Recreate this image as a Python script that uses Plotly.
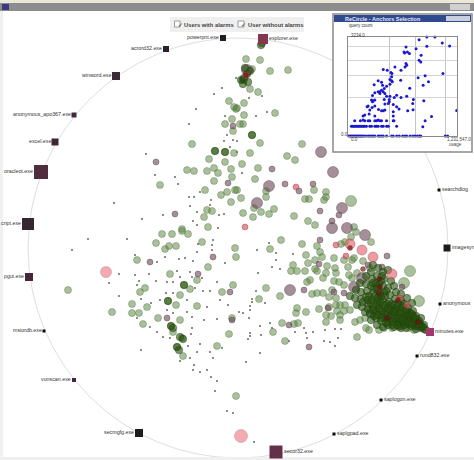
import plotly.graph_objects as go

W, H = 474, 460

green_pts = [(229,101),(234,107),(236,109),(232,119),(225,124),(233,131),(192,144),(215,151),(225,152),(209,159),(234,153),(225,162),(214,168),(218,173),(231,169),(232,177),(187,170),(194,171),(207,171),(214,181),(160,185),(205,190),(221,195),(227,192),(235,190),(231,202),(207,210),(212,211),(204,217),(208,227),(182,229),
(246,59),(260,60),(270,71),(288,70),(252,69),(244,80),(250,89),(258,92),(244,103),(275,113),(244,115),(237,108),(243,124),(240,124),(252,135),(260,143),(302,144),(250,153),(287,156),(295,160),(242,164),(258,168),(255,179),(266,191),(266,197),(241,198),(305,199),(309,199),(314,190),(326,192),(326,197),(324,200),(274,209),(269,214),(261,212),(243,213),(253,217),(294,216),(308,221),(315,225),(354,227),(254,208),(237,190),
(162,234),(172,234),(182,231),(188,234),(156,243),(169,246),(165,249),(176,246),(202,242),(235,248),(236,257),(137,260),(208,267),(170,274),(197,280),(184,285),(190,289),(145,288),(140,292),(180,295),(222,292),(233,285),(68,290),(168,301),(176,305),(197,306),(147,307),(132,304),(132,313),(139,313),(112,312),(158,318),(180,320),(232,318),(143,324),(171,326),(173,332),(182,338),(229,334),(177,347),(217,346),(183,356),(236,396),
(281,240),(270,249),(302,244),(317,246),(320,252),(322,257),(306,255),(308,263),(315,260),(334,258),(344,260),(354,258),(363,261),(293,265),(291,271),(297,271),(305,271),(315,269),(317,271),(327,266),(335,268),(336,273),(326,273),(348,267),(352,260),(371,242),(356,232),(351,237),(345,242),(341,244),(323,278),(310,280),(307,282),(334,281),(339,282),(266,288),(280,296),(312,294),(317,293),(323,293),(329,297),(332,290),(336,298),(259,299),(344,285),(349,275),(352,278),(357,273),(370,268),
(297,308),(296,313),(306,312),(319,309),(329,307),(336,305),(340,305),(345,305),(350,310),(344,311),(337,311),(331,316),(326,315),(340,315),(340,320),(326,322),(355,322),(360,320),(365,318),(282,323),(294,324),(298,323),(273,332),(285,341),(357,337),(366,328),(369,330),(379,330),(384,328),(392,328),(399,327),(409,328),(414,330)]
green_big_pts = [(351,201),(410,271),(404,283),(419,301)]
cluster_pts = [(373,265),(378,268),(371,272),(383,272),(388,270),(366,276),(372,279),(377,276),(384,279),(391,281),(360,283),(366,284),(371,286),(376,283),(383,286),(388,288),(394,286),(356,290),(361,292),(367,291),(373,293),(378,290),(384,293),(390,295),(396,292),(401,294),(350,296),(355,298),(361,299),(366,297),(372,300),(378,298),(383,300),(389,302),(395,299),(401,301),(407,298),(412,303),(357,305),(362,307),(368,304),(373,307),(379,305),(385,308),(390,306),(396,309),(402,306),(408,308),(413,311),(365,312),(370,314),(376,312),(382,315),(387,312),(393,315),(399,312),(405,315),(410,313),(416,316),(421,318),(371,320),(376,318),(381,321),(387,319),(392,322),(398,320),(403,323),(409,320),(414,323),(419,321),(424,325),(377,325),(383,327),(388,325),(394,327),(400,326),(406,328),(411,326),(416,329),(421,328),(426,330),
(395,305),(400,310),(404,304),(407,312),(410,318),(413,316),(417,320),(405,322),(398,316),(392,318),(388,322),(384,318),(380,310),(376,304),(396,322),(402,318),(415,326),(420,324),(424,329),(408,324),(411,322),(401,328),(393,310),(387,304),(381,297),(374,288),(369,296),(363,302),(385,296),(379,284),(382,276),(368,309),(374,316),
(390,310),(394,312),(397,307),(401,314),(404,318),(407,316),(411,319),(414,320),(416,323),(418,326),(421,326),(423,327),(399,318),(395,318),(391,315),(388,316),(385,314),(382,311),(379,308),(377,300),(380,302),(384,305),(388,308),(392,304),(398,303),(403,308),(406,310),(409,315),(412,314),(400,323),(404,325),(397,325),(392,325),(386,323),(381,318),(377,315),(373,310),(371,303),(375,296),(380,293),(386,291),(377,287),(373,283),(381,281),(368,300),(403,320),(408,322),(412,324),(415,318),(419,324),
(241,80),(244,78),(247,74),(250,71),(245,68),(248,82),(243,84),(252,135),(168,301),(171,326),(173,328),(180,337),(183,339),(177,347),(179,350),(184,285),(215,151),(225,152),(261,45),(262,43)]
mauve_big_pts = [(321,152),(333,172),(269,186),(257,203),(342,208),(332,228),(347,228),(247,70),(365,235),(354,287),(290,290),(362,278),(372,312)]
mauve_pts = [(156,162),(175,214),(228,183),(233,126),(285,184),(272,169),(313,184),(299,191),(320,211),(339,215),(332,221),(242,80),(150,262),(213,257),(198,274),(230,292),(167,318),(232,320),(309,347),(368,265),(382,267),(387,256),(320,240),(319,264),(344,293),(334,292),(328,308),(304,290),(402,287),(289,325)]
red_big_pts = [(350,244),(362,250),(373,257),(392,274)]
red_pts = [(296,187),(245,227),(246,75),(346,256),(336,245),(400,298),(407,305)]
darkred_pts = [(379,279),(350,248),(380,287),(363,269),(418,322),(387,318),(398,300),(379,293),(246,75)]
salmon_big_pts = [(106,272),(241,436)]
dot_pts = [(88,239),(127,239),(72,250),(119,274),(109,283),(119,296),(135,255),(157,262),(165,257),(179,259),(185,258),(193,261),(198,244),(212,245),(197,252),(212,250),(213,240),(225,263),(135,275),(149,274),(139,281),(137,285),(156,281),(167,282),(173,282),(177,271),(190,272),(180,277),(192,277),(202,278),(217,282),(210,291),(203,291),(195,288),(166,293),(160,300),(151,303),(141,299),(173,293),(187,300),(207,307),(220,300),(228,305),(167,310),(173,313),(187,312),(192,317),(204,320),(217,319),(137,318),(150,327),(157,332),(163,337),(170,338),(192,328),(191,334),(200,344),(188,346),(197,352),(210,352),(222,348),(213,358),(190,358),(180,361),(194,365),(193,370),(200,372),(207,370),(211,377),(217,381),(215,391),(141,350),(227,411),(233,413),
(236,78),(222,88),(214,94),(196,109),(189,124),(146,154),(155,175),(175,177),(178,184),(114,203),(142,219),(163,215),(189,197),(194,197),(190,206),(200,192),(211,200),(210,205),(197,212),(219,215),(224,214),(193,221),(197,225),(218,228),(233,140),(230,147),(224,141),(227,135),(225,116),
(256,116),(267,112),(249,98),(262,96),(242,173),(237,141),(237,152),
(257,250),(269,243),(276,253),(276,260),(293,254),(272,267),(280,269),(258,273),(256,291),(252,299),(252,302),(265,303),(250,306),(239,312),(243,313),(250,310),(249,318),(270,323),(260,326),(272,328),(250,333),(250,336),(248,339),(261,335),(289,341),(295,332),(306,333),(313,332),(307,338),(324,341),(330,342),(338,338),(335,346),(325,330),(335,329),(341,329),(260,353),(246,362),(254,442),(304,328)]

anchor_names = ["powerpnt.exe","acrord32.exe","winword.exe","anonymous_apo367.exe","excel.exe","oracleot.exe","cript.exe","pgui.exe","msiordb.exe","vunscan.exe","secmgfg.exe","secor32.exe","saplgpad.exe","saplogon.exe","rund832.exe","minutes.exe","anonymous","imagesyn","searchdlog","explorer.exe"]
anchor_x = [223,166,116,74,55,41,28,29,44,74,139,276,334,381,417,430,440,447,439,263]
anchor_y = [38,49,76,115,142,172,224,277,331,380,433,452,434,400,356,332,304,248,190,39]
anchor_size = [6,6,8,5,7,14,12,8,3,4,8,13,3,3,3,8,3,7,3,10]
anchor_color = ["#201e1e","#2a2226","#3c2a36","#40283a","#402532","#4f2e3e","#352630","#452738","#0a0a0a","#40283a","#1c1c1c","#652f4a","#0a0a0a","#0a0a0a","#0a0a0a","#a03a6a","#0a0a0a","#1c1c1c","#0a0a0a","#853750"]
anchor_side = ["l","l","l","l","l","l","l","l","l","l","l","r","r","r","r","r","r","r","r","r"]

inset_bottom_x = [58,62,66,70,74,78,82,86,90,94,98,102,108,115,120,125,130,135,145,150,155,160,170,185,190,200,208,218,225,230,240,248,255,262,268,272,345,352]
inset_row1_x = [65,69,73,77,81,85,89,93,97,101,105,110,120,125,135,140,145,155,160,170,175,200]
inset_row2_x = [75,92,105,115,120,135,140,150,155,170,190,192]
inset_other = [(105,315),(100,318),(118,312),(135,318),(155,302),(160,302),(190,318),(190,305),(207,297),(233,302),(248,280),(281,272),(250,268),(230,258),(213,262),(200,255),(193,262),(180,258),(178,268),(170,258),(163,268),(178,275),(115,288),(112,290),(128,275),(125,270),(130,272),(135,288),(135,270),(128,256),(135,248),(133,224),(145,212),(155,216),(158,225),(150,245),(160,245),(155,240),(163,235),(170,228),(150,250),(165,250),(145,245),(180,222),(180,208),(185,212),(187,215),(185,200),(186,190),(172,180),(160,178),(183,187),(195,170),(213,180),(228,160),(230,165),(225,170),(222,125),(228,110),(224,128),(232,125),(238,130),(258,115),(267,88),(290,80),(314,80),(336,98),(358,107),(290,108),(273,135),(267,150),(272,155),(338,190),(285,197),(264,203),(295,215),(279,225),(239,234),(212,210),(304,319),(278,350),(285,332),(249,299),(379,301),(146,298),(165,300),(120,300),(127,292),(175,280),(190,283),(200,290),(100,330),(165,282),(145,330)]


def xs(p):
    return [a for a, _ in p]


def ys(p):
    return [b for _, b in p]


fig = go.Figure()


def add(p, size, fill, line, lw=0.7):
    fig.add_trace(go.Scatter(x=xs(p), y=ys(p), mode="markers", hoverinfo="skip", showlegend=False,
                             marker=dict(size=size, color=fill, line=dict(color=line, width=lw))))


GL = "rgba(80,110,70,0.55)"
add(dot_pts, 2, "rgba(60,70,50,0.8)", "rgba(0,0,0,0)", 0)
add(green_pts, 7, "rgba(85,130,55,0.5)", GL)
add(green_big_pts, 11, "rgba(85,130,55,0.5)", GL)
add(mauve_big_pts, 11, "rgba(105,70,85,0.6)", "rgba(90,60,75,0.6)")
add(mauve_pts, 6, "rgba(105,70,85,0.6)", "rgba(90,60,75,0.6)")
add(cluster_pts, 7.5, "rgba(38,80,10,0.6)", "rgba(30,60,20,0.6)")
add(salmon_big_pts, [11, 13], "rgba(235,95,105,0.75)", "rgba(150,70,80,0.6)")
add(red_big_pts, 10, "rgba(225,90,100,0.6)", "rgba(150,70,80,0.6)")
add(red_pts, 6, "rgba(215,80,90,0.65)", "rgba(150,70,80,0.6)")
add(darkred_pts, 5, "rgba(120,10,15,0.65)", "rgba(90,10,15,0.4)")

fig.add_trace(go.Scatter(x=anchor_x, y=anchor_y, mode="markers", hoverinfo="skip", showlegend=False,
                         marker=dict(symbol="square", size=anchor_size, color=anchor_color, opacity=1, line=dict(width=0))))

inset_x = inset_bottom_x + inset_row1_x + inset_row2_x + xs(inset_other)
inset_y = [378] * len(inset_bottom_x) + [349] * len(inset_row1_x) + [332] * len(inset_row2_x) + ys(inset_other)
fig.add_trace(go.Scatter(x=inset_x, y=inset_y, xaxis="x2", yaxis="y2", mode="markers", hoverinfo="skip",
                         showlegend=False, cliponaxis=False, marker=dict(size=3, color="#1a1acc")))

shapes = [
    dict(type="circle", x0=28, x1=448, y0=38, y1=458, line=dict(color="#dedede", width=1), layer="below"),
    dict(type="rect", x0=0, x1=474, y0=0, y1=3, fillcolor="#e9e7da", line_width=0, layer="below"),
    dict(type="rect", x0=0, x1=474, y0=3, y1=11, fillcolor="#8d8d8d", line_width=0, layer="below"),
    dict(type="rect", x0=0, x1=3, y0=11, y1=460, fillcolor="#f0f0f0", line_width=0, layer="below"),
    dict(type="rect", x0=0, x1=474, y0=457, y1=460, fillcolor="#f0f0f0", line_width=0, layer="below"),
    dict(type="rect", x0=170, x1=304, y0=17, y1=32, fillcolor="#efefef", line_width=0, layer="below"),
    dict(type="rect", x0=174.5, x1=180, y0=21, y1=27, fillcolor="#ffffff", line=dict(color="#777", width=0.7), layer="below"),
    dict(type="rect", x0=238, x1=244, y0=21, y1=27, fillcolor="#ffffff", line=dict(color="#777", width=0.7), layer="below"),
    dict(type="rect", x0=333, x1=472, y0=14, y1=152, fillcolor="#ffffff", line=dict(color="#8a8a8a", width=1.5), layer="below"),
    dict(type="rect", x0=334, x1=471, y0=15, y1=22, fillcolor="#2f4a8f", line_width=0, layer="below"),
    dict(type="rect", x0=446, x1=470, y0=16, y1=21, fillcolor="#c9cfdc", line_width=0, layer="below"),
    dict(type="rect", x0=450, x1=470, y0=4, y1=10, fillcolor="#d0d0d0", line_width=0, layer="below"),
    dict(type="rect", x0=2, x1=9, y0=4, y1=10, fillcolor="#3a3a80", line_width=0, layer="below"),
]

ann = []
for n, x, y, s, side in zip(anchor_names, anchor_x, anchor_y, anchor_size, anchor_side):
    ann.append(dict(x=x + (s / 2 - 1 if side == "r" else -s / 2 + 1), y=y - 1, text=n, showarrow=False,
                    xanchor="left" if side == "r" else "right", yanchor="middle",
                    font=dict(family="Liberation Sans", size=5.3, color="#333")))


def label(x, y, t, size=6.5, color="#333", anchor="left", bold=False):
    ann.append(dict(x=x, y=y, text=f"<b>{t}</b>" if bold else t, showarrow=False, xanchor=anchor,
                    yanchor="middle", font=dict(family="Liberation Sans", size=size, color=color)))


label(182, 24.5, "Users with alarms", 5.8, "#444", bold=True)
label(245.5, 24.5, "User without alarms", 5.8, "#444", bold=True)
label(175.5, 24.5, "✓", 6, "#333")
label(239, 24.5, "✓", 6, "#333")
label(343, 18.5, "ReCircle - Anchors Selection", 5.5, "#e8e8f5", bold=True)
label(347, 25.5, "query count", 4.5, "#333")
label(349, 35, "3234.0", 4.5, "#444")
label(339, 134.5, "0.0", 4.5, "#444")
label(349, 139.5, "0.0", 4.5, "#444")
label(445, 139.5, "1,231,547.0", 4.5, "#444")
label(447, 144.5, "usage", 4.5, "#444")

axis_off = dict(visible=False, showgrid=False, zeroline=False)
fig.update_layout(
    width=W, height=H, margin=dict(l=0, r=0, t=0, b=0), paper_bgcolor="white", plot_bgcolor="rgba(0,0,0,0)",
    showlegend=False, shapes=shapes, annotations=ann,
    xaxis=dict(range=[0, W], domain=[0, 1], **axis_off),
    yaxis=dict(range=[H, 0], domain=[0, 1], **axis_off),
    xaxis2=dict(range=[55, 380], domain=[348 / W, 457 / W], anchor="y2", tickvals=[180, 255, 345], ticks="",
                showticklabels=False, gridcolor="#c4c4c4", gridwidth=1, zeroline=False, showline=True,
                linecolor="#8a8a8a", linewidth=1, mirror=True),
    yaxis2=dict(range=[378, 80], domain=[1 - 136 / H, 1 - 37 / H], anchor="x2", tickvals=[108, 150, 195, 262], ticks="",
                showticklabels=False, gridcolor="#d4d4d4", gridwidth=1, zeroline=False, showline=True,
                linecolor="#8a8a8a", linewidth=1, mirror=True),
)

fig.write_html("out.html", config=dict(displayModeBar=False),
               post_script="document.body.style.margin='0';document.body.style.overflow='hidden';")
